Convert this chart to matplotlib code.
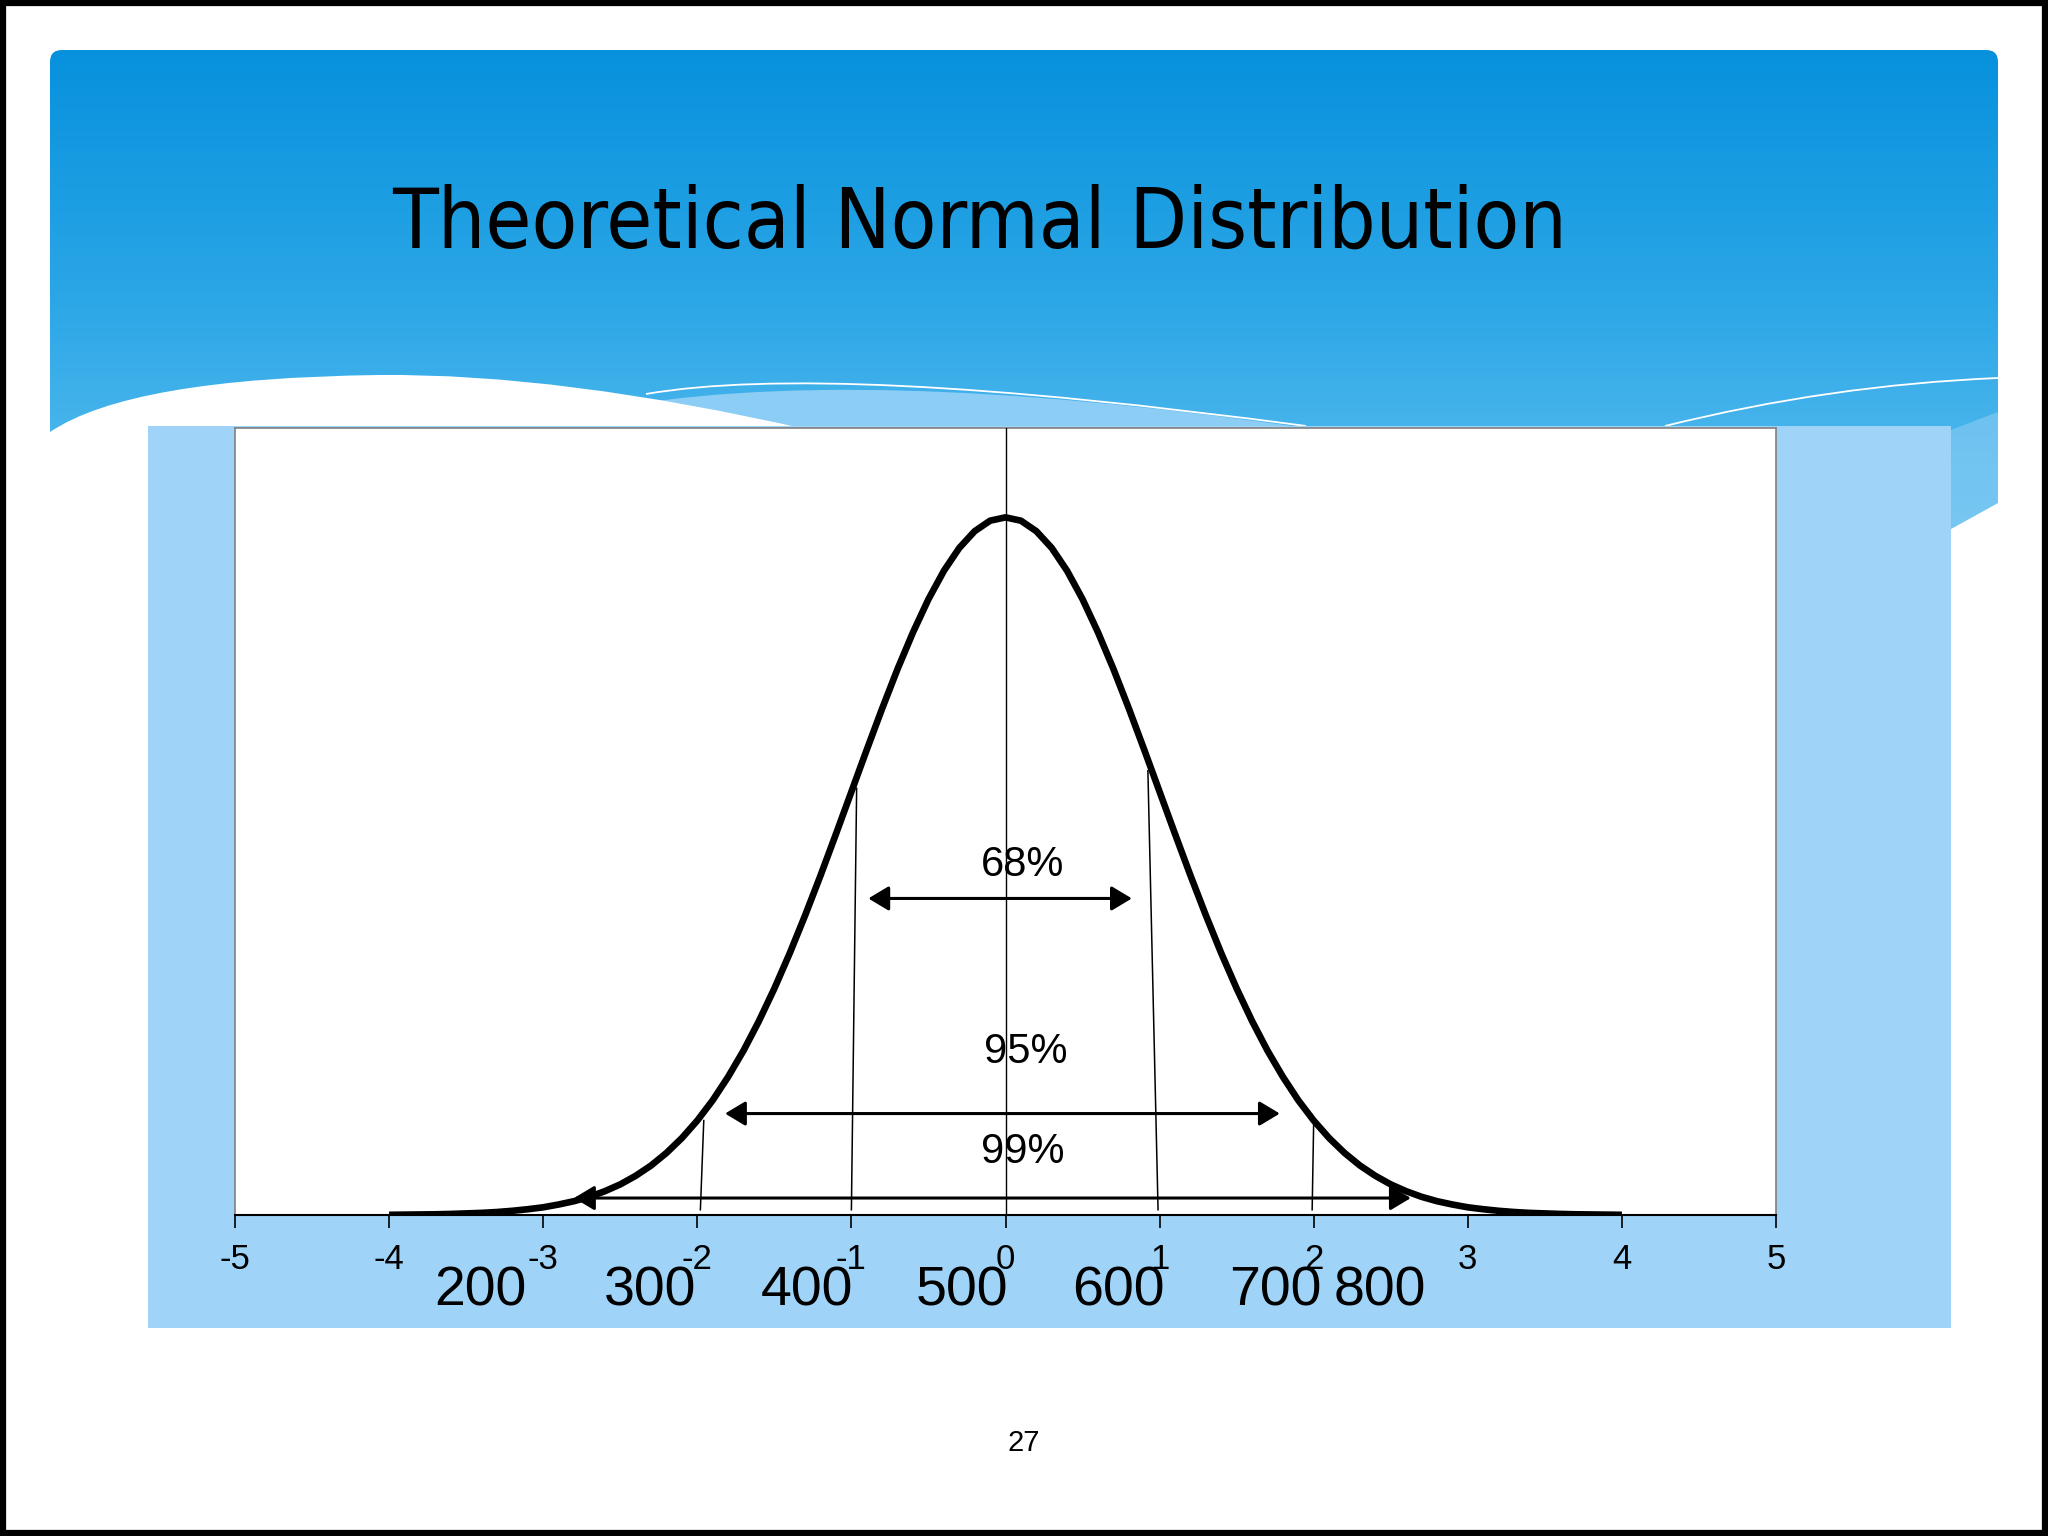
import matplotlib
matplotlib.use("Agg")
import matplotlib.pyplot as plt
import matplotlib.patches as mp
from matplotlib import font_manager as fm
from matplotlib.path import Path
from matplotlib.colors import LinearSegmentedColormap
import numpy as np

# curve (z-score vs height)
z = [-4.0, -3.9, -3.8, -3.7, -3.6, -3.5, -3.4, -3.3, -3.2, -3.1,
     -3.0, -2.9, -2.8, -2.7, -2.6, -2.5, -2.4, -2.3, -2.2, -2.1,
     -2.0, -1.9, -1.8, -1.7, -1.6, -1.5, -1.4, -1.3, -1.2, -1.1,
     -1.0, -0.9, -0.8, -0.7, -0.6, -0.5, -0.4, -0.3, -0.2, -0.1,
     0.0, 0.1, 0.2, 0.3, 0.4, 0.5, 0.6, 0.7, 0.8, 0.9,
     1.0, 1.1, 1.2, 1.3, 1.4, 1.5, 1.6, 1.7, 1.8, 1.9,
     2.0, 2.1, 2.2, 2.3, 2.4, 2.5, 2.6, 2.7, 2.8, 2.9,
     3.0, 3.1, 3.2, 3.3, 3.4, 3.5, 3.6, 3.7, 3.8, 3.9, 4.0]
density = [0.0001, 0.0002, 0.0003, 0.0004, 0.0006, 0.0009, 0.0012, 0.0017, 0.0024, 0.0033,
           0.0044, 0.0060, 0.0079, 0.0104, 0.0136, 0.0175, 0.0224, 0.0283, 0.0355, 0.0440,
           0.0540, 0.0656, 0.0790, 0.0940, 0.1109, 0.1295, 0.1497, 0.1714, 0.1942, 0.2179,
           0.2420, 0.2661, 0.2897, 0.3123, 0.3332, 0.3521, 0.3683, 0.3814, 0.3910, 0.3970,
           0.3989, 0.3970, 0.3910, 0.3814, 0.3683, 0.3521, 0.3332, 0.3123, 0.2897, 0.2661,
           0.2420, 0.2179, 0.1942, 0.1714, 0.1497, 0.1295, 0.1109, 0.0940, 0.0790, 0.0656,
           0.0540, 0.0440, 0.0355, 0.0283, 0.0224, 0.0175, 0.0136, 0.0104, 0.0079, 0.0060,
           0.0044, 0.0033, 0.0024, 0.0017, 0.0012, 0.0009, 0.0006, 0.0004, 0.0003, 0.0002, 0.0001]

tick_vals = [-5, -4, -3, -2, -1, 0, 1, 2, 3, 4, 5]
score_labels = ["200", "300", "400", "500", "600", "700", "800"]
score_pos = [-3.11, -2.01, -0.99, 0.02, 1.03, 2.05, 2.73]

# slanted guide lines at -1, 1, -2, 2
guide_bottom = [-1.0, 0.99, -1.98, 1.99]
guide_top = [-0.966, 0.924, -1.958, 2.0]
guide_height = [0.244, 0.254, 0.054, 0.054]

range_labels = ["68%", "95%", "99%"]
range_left = [-0.89, -1.82, -2.80]
range_right = [0.82, 1.78, 2.63]
range_y = [0.181, 0.058, 0.0097]
label_x = [0.11, 0.13, 0.11]
label_y = [0.200, 0.093, 0.036]

SANS = ["Liberation Sans", "DejaVu Sans"]

# pick a narrow face for the title if one is installed
title_font = None
for f in fm.fontManager.ttflist:
    if f.name == "Liberation Sans Narrow" or ("DejaVuSans" in f.fname and "Condensed" in f.fname
                                              and "Bold" not in f.fname and "Oblique" not in f.fname):
        title_font = fm.FontProperties(fname=f.fname)
        break
if title_font is None:
    title_font = fm.FontProperties(family=["Roboto", "DejaVu Sans"], weight="medium")

W, H = 2048, 1536
fig = plt.figure(figsize=(20.48, 15.36), dpi=100)
fig.patch.set_facecolor("white")

# slide background
bg = fig.add_axes([0, 0, 1, 1])
bg.set_xlim(0, W)
bg.set_ylim(H, 0)
bg.axis("off")

grad = np.linspace(0, 1, 256).reshape(-1, 1)
cmap = LinearSegmentedColormap.from_list("hdr", ["#0791dd", "#2aa6e6", "#5cbef0"])
im = bg.imshow(grad, cmap=cmap, extent=[50, 1998, 535, 50], aspect="auto", zorder=1)
clip = mp.FancyBboxPatch((50, 50), 1948, 485, boxstyle="round,pad=0,rounding_size=12",
                         fc="none", ec="none", transform=bg.transData)
bg.add_patch(clip)
im.set_clip_path(clip)

# lighter swoosh and thin white lines
light = Path([(600, 430), (600, 410), (850, 362), (1306, 428), (1306, 430), (600, 430)],
             [Path.MOVETO, Path.LINETO, Path.CURVE3, Path.CURVE3, Path.LINETO, Path.CLOSEPOLY])
bg.add_patch(mp.PathPatch(light, fc="#8bcdf4", ec="none", zorder=2))
arc1 = Path([(646, 394), (830, 362), (1306, 426)], [Path.MOVETO, Path.CURVE3, Path.CURVE3])
bg.add_patch(mp.PathPatch(arc1, fc="none", ec="white", lw=1.3, zorder=2))
arc2 = Path([(1665, 426), (1830, 385), (1998, 378)], [Path.MOVETO, Path.CURVE3, Path.CURVE3])
bg.add_patch(mp.PathPatch(arc2, fc="none", ec="white", lw=1.3, zorder=2))
bg.add_patch(mp.Polygon([(1951, 430), (1998, 412), (1998, 503), (1951, 529)],
                        fc="#8bcdf4", ec="none", alpha=0.6, zorder=2))

# white wave on the left
wave = Path([(50, 432), (130, 378), (379, 375), (560, 373), (810, 430),
             (810, 545), (40, 545), (50, 432)],
            [Path.MOVETO, Path.CURVE3, Path.CURVE3, Path.CURVE3, Path.CURVE3,
             Path.LINETO, Path.LINETO, Path.CLOSEPOLY])
bg.add_patch(mp.PathPatch(wave, fc="white", ec="none", zorder=2))
bg.add_patch(mp.Polygon([(1951, 529), (1998, 503), (2000, 545), (1951, 545)],
                        fc="white", ec="none", zorder=2))

# light blue panel behind the chart
bg.add_patch(mp.Rectangle((148, 426), 1803, 902, fc="#9fd3f7", ec="none", zorder=3))

# slide frame
bg.add_patch(mp.Rectangle((3, 3), 2042, 1530, fc="none", ec="black", lw=4.5, zorder=10))

title = bg.text(980, 248, "Theoretical Normal Distribution", ha="center", va="baseline",
                fontproperties=title_font, fontsize=74, color="black", zorder=5)
renderer = fig.canvas.get_renderer()
tw = title.get_window_extent(renderer).width
if tw > 1175:
    title.set_fontsize(74 * 1175 / tw)

bg.text(1024, 1443, "27", ha="center", va="center", fontsize=21, family=SANS, zorder=5)

# chart
ax = fig.add_axes([235 / W, 1 - 1215 / H, (1776 - 235) / W, (1215 - 428) / H])
ax.set_facecolor("white")
ax.set_xlim(-5, 5)
ax.set_ylim(0, 0.45)
ax.set_zorder(4)

ax.plot(z, density, color="black", lw=4.8, solid_capstyle="butt", solid_joinstyle="round", zorder=5)
ax.plot([0, 0], [0, 0.45], color="black", lw=1, zorder=3)
for xb, xt, yt in zip(guide_bottom, guide_top, guide_height):
    ax.plot([xb, xt], [0.003, yt], color="black", lw=1.1, zorder=3)

for lab, x0, x1, y, tx, ty in zip(range_labels, range_left, range_right, range_y, label_x, label_y):
    ax.annotate("", xy=(x1, y), xytext=(x0, y),
                arrowprops=dict(arrowstyle="<|-|>,head_length=0.5,head_width=0.3",
                                color="black", lw=2.2, shrinkA=0, shrinkB=0,
                                mutation_scale=25), zorder=4)
    ax.text(tx, ty, lab, ha="center", va="center", fontsize=30, family=SANS, zorder=6)

ax.set_xticks(tick_vals)
ax.set_xticklabels([str(t) for t in tick_vals], fontsize=25, family=SANS)
ax.tick_params(axis="x", direction="out", length=9.5, width=1.2, pad=11, color="black")
ax.set_yticks([])
for side in ["left", "top", "right"]:
    ax.spines[side].set_color("#808080")
    ax.spines[side].set_linewidth(1.2)
ax.spines["bottom"].set_color("black")
ax.spines["bottom"].set_linewidth(1.5)

for lab, x in zip(score_labels, score_pos):
    ax.text(x, -0.1156, lab, ha="right", va="baseline", fontsize=40, family=SANS,
            transform=ax.get_xaxis_transform(), clip_on=False, zorder=6)

fig.savefig("out.png", dpi=100, facecolor="white")
